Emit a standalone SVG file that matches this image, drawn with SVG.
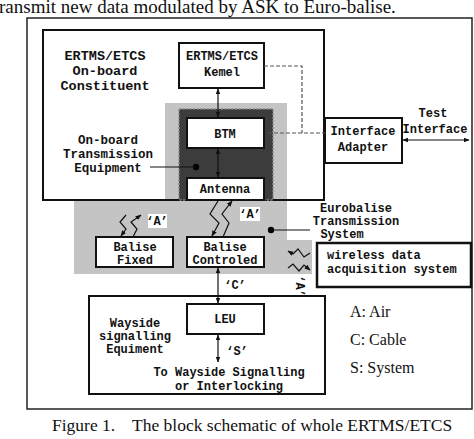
<svg xmlns="http://www.w3.org/2000/svg" width="474" height="439" viewBox="0 0 474 439">
<defs>
<marker id="ah" viewBox="0 0 10 10" refX="9" refY="5" markerWidth="5" markerHeight="5" orient="auto-start-reverse"><path d="M0,1 L10,5 L0,9 z" fill="#111"/></marker>
<style>
.box{fill:#fff;stroke:#111;stroke-width:2}
.frame{fill:none;stroke:#222;stroke-width:1.5}
.m{font-family:"Liberation Mono","DejaVu Sans Mono",monospace;font-weight:bold;fill:#111;text-anchor:middle}
.st{text-anchor:start}
.m14{font-size:13.5px}
.m13{font-size:12.5px}
.m12{font-size:12px}
.s{font-family:"Liberation Serif","Times New Roman",serif;fill:#111}
.ln{stroke:#111;stroke-width:1.2;fill:none}
.arr{stroke:#111;stroke-width:1.2;fill:none;marker-start:url(#ah);marker-end:url(#ah)}
.one{stroke:#111;stroke-width:1.2;fill:none;marker-end:url(#ah)}
.lbl{fill:#fff}
</style>
</defs>
<rect width="474" height="439" fill="#fff"/>
<text class="s" x="-1" y="13" font-size="19">ransmit new data modulated by ASK to Euro-balise.</text>

<rect class="frame" x="27" y="18" width="445" height="391"/>

<g id="gray">
<path d="M165,103 H287 V240 H312 V274 H74 V200 H165 Z" fill="#c4c4c4"/>
</g>

<g id="onboard">
<rect x="43" y="30" width="281" height="170" fill="none" stroke="#111" stroke-width="2"/>
<text class="m m14" x="105" y="60">ERTMS/ETCS</text>
<text class="m m14" x="105" y="75">On-board</text>
<text class="m m14" x="105" y="90">Constituent</text>
</g>

<g id="transmission">
<rect x="179" y="109" width="94" height="91" fill="#3c3c3c" stroke="#888" stroke-width="1.5" stroke-dasharray="2 1.5"/>
<text class="m m13" x="108" y="144">On-board</text>
<text class="m m13" x="108" y="158">Transmission</text>
<text class="m m13" x="108" y="172">Equipment</text>
<circle cx="196" cy="167" r="3.2" fill="#000"/>
</g>

<g id="kernel">
<rect class="box" x="179" y="43" width="85" height="45"/>
<text class="m m12" x="222" y="60">ERTMS/ETCS</text>
<text class="m m12" x="222" y="76">Kemel</text>
</g>

<g id="btm">
<rect class="box" x="187" y="118" width="77" height="30"/>
<text class="m m12" x="225" y="138">BTM</text>
</g>

<g id="antenna">
<rect class="box" x="187" y="178" width="77" height="22"/>
<text class="m m12" x="225" y="193">Antenna</text>
</g>

<g id="adapter">
<rect class="box" x="325" y="118" width="77" height="45"/>
<text class="m m12" x="363" y="135">Interface</text>
<text class="m m12" x="363" y="151">Adapter</text>
</g>

<g id="test">
<text class="m m12" x="433" y="117">Test</text>
<text class="m m12" x="435" y="133">Interface</text>
</g>

<g id="balise-fixed">
<rect class="box" x="96" y="237" width="77" height="30"/>
<text class="m m12" x="135" y="251">Balise</text>
<text class="m m12" x="135" y="264">Fixed</text>
</g>

<g id="balise-controled">
<rect class="box" x="187" y="237" width="77" height="30"/>
<text class="m m12" x="225" y="251">Balise</text>
<text class="m m12" x="225" y="264">Controled</text>
</g>

<g id="eurobalise">
<circle cx="271" cy="230" r="3.2" fill="#000"/>
<text class="m m12" x="356" y="212">Eurobalise</text>
<text class="m m12" x="356" y="225">Transmission</text>
<text class="m m12" x="342" y="238">System</text>
</g>

<g id="wireless">
<rect x="317" y="243" width="154" height="44" fill="#fff" stroke="#111" stroke-width="2.5"/>
<text class="m m12 st" x="327" y="259">wireless data</text>
<text class="m m12 st" x="327" y="273">acquisition system</text>
</g>

<g id="wayside">
<rect x="89" y="296" width="236" height="98" fill="none" stroke="#111" stroke-width="2"/>
<text class="m m12" x="135" y="327">Wayside</text>
<text class="m m12" x="135" y="340">signalling</text>
<text class="m m12" x="135" y="353">Equiment</text>
<text class="m m12" x="229" y="376">To Wayside Signalling</text>
<text class="m m12" x="229" y="390">or Interlocking</text>
</g>

<g id="leu">
<rect class="box" x="187" y="304" width="77" height="30"/>
<text class="m m12" x="225" y="323">LEU</text>
</g>

<g id="legend">
<text class="s" x="350" y="317" font-size="16">A: Air</text>
<text class="s" x="350" y="345" font-size="16">C: Cable</text>
<text class="s" x="350" y="373" font-size="16">S: System</text>
</g>

<g id="connectors">
<line class="arr" x1="218" y1="89" x2="218" y2="117"/>
<line class="arr" x1="218" y1="149" x2="218" y2="177"/>
<line class="arr" x1="218" y1="268" x2="218" y2="303"/>
<line class="arr" x1="218" y1="335" x2="218" y2="362"/>
<line class="arr" x1="403" y1="140" x2="469" y2="140"/>
<path d="M264,66 H302 V133" stroke="#555" stroke-width="1.2" fill="none" stroke-dasharray="4 2"/>
<path d="M268,133 H325" stroke="#555" stroke-width="1.2" fill="none" stroke-dasharray="4 2"/>
<line class="ln" x1="150" y1="167" x2="196" y2="167"/>
<line class="ln" x1="271" y1="230" x2="310" y2="230"/>
<path class="one" d="M126,215 L120,222 L126,229 L121,236"/>
<path class="one" d="M133,237 L137,229 L131,222 L141,215"/>
<path class="one" d="M218,201 L210,214 L219,223 L212,236"/>
<path class="one" d="M223,237 L229,223 L222,214 L232,201"/>
<path class="one" d="M310,253 L304,257 L298,249 L293,254 L288,251"/>
<path class="one" d="M288,268 L293,264 L299,271 L304,265 L310,270"/>
<rect class="lbl" x="148" y="214" width="19" height="14"/>
<text class="m m12" x="157" y="225">‘A’</text>
<rect class="lbl" x="240" y="207" width="20" height="14"/>
<text class="m m12" x="250" y="218">‘A’</text>
<text class="m m12" x="235" y="289">‘C’</text>
<text class="m m12" x="237" y="355">‘S’</text>
<text class="m m12" transform="translate(296,286) rotate(90)">‘A’</text>
</g>

<text class="s" x="52" y="431" font-size="17.5">Figure 1.<tspan x="132">The block schematic of whole ERTMS/ETCS</tspan></text>
</svg>
